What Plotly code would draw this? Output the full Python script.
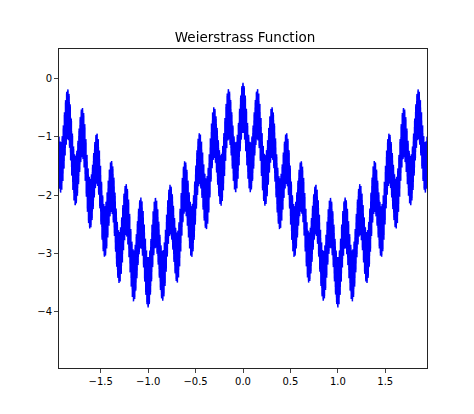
import numpy as np
import plotly.graph_objects as go

# Weierstrass parameters
a = 0.5
b = 13
n_terms = [0, 1, 2, 3, 4]
offset = -2.0
x_limits = [-1.94, 1.94]

x = np.linspace(x_limits[0], x_limits[1], 200000)
y = sum(a**n * np.cos(b**n * np.pi * x) for n in n_terms) + offset

fig = go.Figure(go.Scattergl(x=x, y=np.round(y, 4), mode="lines", line=dict(color="#0000ff", width=1.5)))
fig.update_layout(
    width=474, height=414, template="simple_white", showlegend=False,
    margin=dict(l=51, r=55, t=41, b=54),
    title=dict(text="Weierstrass Function", x=0.5, xanchor="center", y=0.918, yanchor="bottom",
               font=dict(family="DejaVu Sans", size=13.5, color="black")),
    font=dict(family="DejaVu Sans", size=10, color="black"),
)
fig.update_xaxes(range=x_limits, tickvals=[-1.5, -1, -0.5, 0, 0.5, 1, 1.5],
                 ticktext=["−1.5", "−1.0", "−0.5", "0.0", "0.5", "1.0", "1.5"],
                 mirror=True, showline=True, ticks="outside", ticklen=4)
fig.update_yaxes(range=[-4.96, 0.5], tickvals=[-4, -3, -2, -1, 0],
                 ticktext=["−4", "−3", "−2", "−1", "0"],
                 mirror=True, showline=True, ticks="outside", ticklen=4)
fig.write_html("out.html")
